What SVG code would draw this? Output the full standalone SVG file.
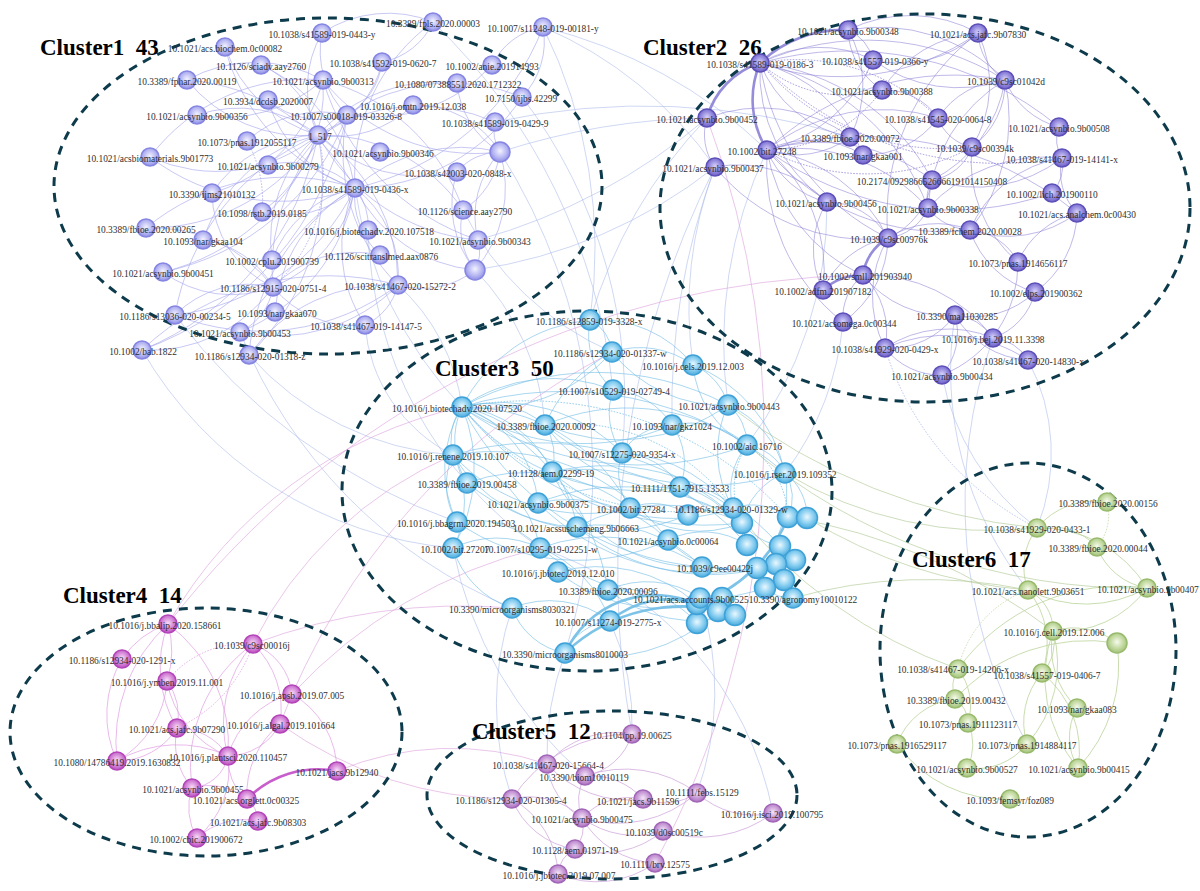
<svg xmlns="http://www.w3.org/2000/svg" width="1200" height="891" viewBox="0 0 1200 891">
<defs>
<radialGradient id="gA" cx="50%" cy="45%" r="55%"><stop offset="0" stop-color="#f2f2ff"/><stop offset="0.65" stop-color="#b4b4f2"/><stop offset="1" stop-color="#8e8ee6"/></radialGradient>
<radialGradient id="gB" cx="50%" cy="45%" r="55%"><stop offset="0" stop-color="#d6d2fa"/><stop offset="0.6" stop-color="#9186dc"/><stop offset="1" stop-color="#6e60c8"/></radialGradient>
<radialGradient id="gC" cx="50%" cy="45%" r="55%"><stop offset="0" stop-color="#eaf8ff"/><stop offset="0.6" stop-color="#86cdf0"/><stop offset="1" stop-color="#4aaadc"/></radialGradient>
<radialGradient id="gD" cx="50%" cy="45%" r="55%"><stop offset="0" stop-color="#f8dcf8"/><stop offset="0.6" stop-color="#d383d6"/><stop offset="1" stop-color="#bb4ec0"/></radialGradient>
<radialGradient id="gE" cx="50%" cy="45%" r="55%"><stop offset="0" stop-color="#f4e4f8"/><stop offset="0.6" stop-color="#c79ad6"/><stop offset="1" stop-color="#ad72c0"/></radialGradient>
<radialGradient id="gF" cx="50%" cy="45%" r="55%"><stop offset="0" stop-color="#f6fbec"/><stop offset="0.6" stop-color="#c2d9a0"/><stop offset="1" stop-color="#a2c27a"/></radialGradient>
</defs>
<style>
.t{font-family:"Liberation Serif","Times New Roman",serif;font-size:9.4px;fill:#2e2e2e;text-anchor:middle}
.ct{font-family:"Liberation Serif","Times New Roman",serif;font-size:23px;font-weight:bold;fill:#000}
.cl{fill:none;stroke:#0d3b4c;stroke-width:3;stroke-dasharray:9 7}
#edges path{fill:none}
.e1 path{stroke:#a4a4ec;stroke-width:1;opacity:.6}
.e2 path{stroke:#8a80d6;stroke-width:1;opacity:.55}
.e3 path{stroke:#6fbde6;stroke-width:1;opacity:.6}
.e4 path{stroke:#e09ce2;stroke-width:1;opacity:.7}
.e5 path{stroke:#cfa6dc;stroke-width:1;opacity:.75}
.e6 path{stroke:#bcd49c;stroke-width:1;opacity:.8}
.ex path{stroke:#a8b8ea;stroke-width:1;opacity:.55}
.exp path{stroke:#dca0dc;stroke-width:1;opacity:.6}
.exg path{stroke:#b8cfa0;stroke-width:1;opacity:.7}
#edges path.dot{stroke-dasharray:1.5 1.5;opacity:.8}
#edges path.thk{stroke-width:2.6;opacity:.9}
.n1 circle{fill:url(#gA);stroke:#8585e2;stroke-width:1.5}
.n2 circle{fill:url(#gB);stroke:#5c4fb8;stroke-width:1.5}
.n3 circle{fill:url(#gC);stroke:#3ea2d8;stroke-width:1.5}
.n4 circle{fill:url(#gD);stroke:#b444ba;stroke-width:1.5}
.n5 circle{fill:url(#gE);stroke:#a266b8;stroke-width:1.5}
.n6 circle{fill:url(#gF);stroke:#98ba6c;stroke-width:1.5}
</style>
<rect width="1200" height="891" fill="#fff"/>

<g id="edges">
<g class="ex">
<path d="M500 152A700 700 0 0 1 707 118"/><path d="M475 270A500 500 0 0 0 715 167"/><path d="M495 122A700 700 0 0 1 850 137"/><path d="M478 240A600 600 0 0 0 707 118"/><path d="M543 27A400 400 0 0 1 715 167"/><path d="M543 27A500 500 0 0 1 767 150"/>
<path d="M355 188A400 400 0 0 0 462 407"/><path d="M398 285A200 200 0 0 1 462 407"/><path d="M365 325A160 160 0 0 0 453 455"/><path d="M249 355A300 300 0 0 0 453 455"/><path d="M142 350A400 400 0 0 0 453 548"/><path d="M475 270A250 250 0 0 1 545 425"/><path d="M463 210A300 300 0 0 0 612 352"/><path d="M543 27A500 500 0 0 1 590 320"/><path d="M433 22A600 600 0 0 1 613 390"/><path d="M522 97A500 500 0 0 1 622 453"/><path d="M240 332A500 500 0 0 0 512 608"/><path d="M368 230A400 400 0 0 0 540 548"/><path d="M500 152A600 600 0 0 1 565 653"/><path d="M175 315A600 600 0 0 0 457 522"/>
<path d="M715 167A400 400 0 0 0 693 365"/><path d="M707 118A500 500 0 0 0 590 320"/><path d="M767 150A450 450 0 0 0 728 405"/><path d="M827 202A400 400 0 0 1 747 445"/><path d="M843 322A300 300 0 0 1 785 473"/><path d="M715 167A700 700 0 0 0 672 425"/>
<path d="M942 375A250 250 0 0 0 1037 528"/><path class="dot" d="M885 348A300 300 0 0 0 1037 528"/><path d="M1028 360A200 200 0 0 1 1037 528"/><path d="M993 338A500 500 0 0 0 1027 744"/><path d="M955 315A350 350 0 0 0 1028 590"/>
<path d="M512 608A300 300 0 0 0 512 799"/><path d="M610 621A250 250 0 0 1 632 734"/><path d="M565 653A300 300 0 0 0 547 764"/><path d="M700 598A300 300 0 0 1 697 793"/><path d="M453 548A400 400 0 0 0 585 776"/><path d="M540 548A350 350 0 0 1 773 813"/><path d="M632 734A900 900 0 0 1 715 167"/>
</g>
<g class="exg">
<path d="M785 473A400 400 0 0 0 1037 528"/><path d="M807 518A500 500 0 0 0 1028 590"/><path d="M793 598A500 500 0 0 1 1028 590"/><path d="M747 445A600 600 0 0 0 1147 588"/><path d="M788 517A600 600 0 0 1 1053 631"/><path d="M733 508A500 500 0 0 0 958 669"/><path d="M728 405A600 600 0 0 0 1037 528"/>
</g>
<g class="exp">
<path d="M168 624A450 450 0 0 1 462 407"/><path d="M253 644A400 400 0 0 1 453 455"/><path d="M292 694A500 500 0 0 1 540 548"/><path d="M253 644A600 600 0 0 1 512 608"/><path d="M168 624A900 900 0 0 1 863 275"/><path d="M280 724A700 700 0 0 1 612 352"/><path d="M337 771A300 300 0 0 1 547 764"/><path d="M280 724A400 400 0 0 0 512 799"/><path d="M707 118A900 900 0 0 1 655 863"/>
</g>
<g class="e1">
<path d="M318 135A140 140 0 0 1 225 47"/><path d="M318 135A100 100 0 0 0 261 65"/><path d="M318 135A150 150 0 0 1 187 80"/><path d="M318 135A130 130 0 0 0 197 115"/><path d="M318 135A160 160 0 0 1 150 157"/><path d="M318 135A130 130 0 0 0 212 193"/><path d="M318 135A200 200 0 0 1 146 228"/><path d="M318 135A160 160 0 0 0 203 240"/><path d="M318 135A220 220 0 0 1 163 272"/><path d="M318 135A240 240 0 0 0 175 315"/><path d="M318 135A290 290 0 0 1 142 350"/><path d="M318 135A110 110 0 0 1 322 33"/><path d="M318 135A100 100 0 0 0 382 62"/><path d="M318 135A160 160 0 0 1 457 83"/><path d="M318 135A110 110 0 0 0 413 105"/><path d="M318 135A190 190 0 0 1 495 122"/><path d="M318 135A150 150 0 0 0 457 172"/><path d="M318 135A170 170 0 0 1 463 210"/><path d="M318 135A200 200 0 0 0 478 240"/><path d="M318 135A180 180 0 0 1 398 285"/><path d="M318 135A140 140 0 0 0 272 260"/><path d="M318 135A240 240 0 0 1 249 355"/>
<path d="M355 188A95 95 0 0 0 268 165"/><path d="M355 188A100 100 0 0 1 262 212"/><path d="M355 188A115 115 0 0 0 272 260"/><path d="M355 188A135 135 0 0 1 273 287"/><path d="M355 188A155 155 0 0 0 275 312"/><path d="M355 188A190 190 0 0 1 240 332"/><path d="M355 188A210 210 0 0 0 249 355"/><path d="M355 188A60 60 0 0 1 368 230"/><path d="M355 188A80 80 0 0 0 380 255"/><path d="M355 188A110 110 0 0 1 398 285"/><path d="M355 188A140 140 0 0 0 365 325"/><path d="M355 188A190 190 0 0 1 433 22"/><path d="M355 188A260 260 0 0 0 543 27"/><path d="M355 188A160 160 0 0 1 500 152"/><path d="M355 188A150 150 0 0 0 475 270"/><path d="M355 188A130 130 0 0 1 268 100"/><path d="M355 188A165 165 0 0 0 261 65"/><path d="M355 188A200 200 0 0 1 225 47"/><path d="M355 188A210 210 0 0 0 187 80"/><path d="M355 188A215 215 0 0 1 150 157"/><path d="M355 188A220 220 0 0 0 146 228"/><path d="M355 188A230 230 0 0 1 175 315"/><path d="M355 188A200 200 0 0 0 522 97"/>
<path d="M347 115A90 90 0 0 1 322 33"/><path d="M347 115A70 70 0 0 0 382 62"/><path d="M347 115A80 80 0 0 1 268 100"/><path d="M347 115A110 110 0 0 0 247 141"/><path d="M347 115A185 185 0 0 1 522 97"/><path d="M347 115A160 160 0 0 0 492 65"/><path d="M347 115A250 250 0 0 1 163 272"/><path d="M347 115A195 195 0 0 0 273 287"/><path d="M347 115A320 320 0 0 1 142 350"/><path d="M347 115A185 185 0 0 0 398 285"/>
<path d="M273 287A105 105 0 0 1 212 193"/><path d="M273 287A150 150 0 0 0 146 228"/><path d="M273 287A115 115 0 0 1 163 272"/><path d="M273 287A105 105 0 0 0 175 315"/><path d="M273 287A150 150 0 0 1 142 350"/><path d="M273 287A95 95 0 0 0 203 240"/><path d="M273 287A60 60 0 0 1 240 332"/><path d="M273 287A105 105 0 0 0 365 325"/><path d="M273 287A115 115 0 0 1 380 255"/>
<path d="M323 80A140 140 0 0 0 187 80"/><path d="M323 80A150 150 0 0 1 197 115"/><path d="M323 80A195 195 0 0 0 150 157"/><path d="M323 80A160 160 0 0 1 212 193"/><path d="M323 80A195 195 0 0 0 500 152"/><path d="M323 80A200 200 0 0 1 463 210"/><path d="M323 80A240 240 0 0 0 478 240"/><path d="M323 80A150 150 0 0 1 262 212"/>
<path d="M398 285A170 170 0 0 1 240 332"/><path d="M398 285A170 170 0 0 0 249 355"/><path d="M398 285A230 230 0 0 1 175 315"/><path d="M398 285A270 270 0 0 0 142 350"/><path d="M398 285A60 60 0 0 1 365 325"/><path d="M398 285A85 85 0 0 0 475 270"/>
<path d="M500 152A40 40 0 0 1 495 122"/><path d="M500 152A55 55 0 0 0 457 172"/><path d="M500 152A80 80 0 0 1 463 210"/><path d="M500 152A95 95 0 0 0 478 240"/><path d="M500 152A125 125 0 0 1 475 270"/><path d="M500 152A100 100 0 0 0 413 105"/><path d="M500 152A90 90 0 0 1 457 83"/>
<path d="M475 270A70 70 0 0 1 463 210"/><path d="M475 270A40 40 0 0 0 478 240"/><path d="M475 270A105 105 0 0 1 457 172"/>
<path d="M433 22A70 70 0 0 1 382 62"/><path d="M433 22A120 120 0 0 0 322 33"/><path d="M543 27A80 80 0 0 1 522 97"/><path d="M543 27A70 70 0 0 0 492 65"/>
<path class="dot" d="M247 141A120 120 0 0 1 262 212"/><path class="dot" d="M318 135A150 150 0 0 1 273 287"/>
</g>
<g class="e2">
<path class="thk" d="M760 63A120 120 0 0 1 848 30"/><path class="thk" d="M707 118A80 80 0 0 1 760 63"/><path class="thk" d="M767 150A95 95 0 0 1 760 63"/>
<path d="M760 63A120 120 0 0 1 873 60"/><path class="dot" d="M760 63A130 130 0 0 0 882 90"/><path class="dot" d="M760 63A200 200 0 0 1 938 118"/><path d="M760 63A120 120 0 0 0 850 137"/><path d="M760 63A145 145 0 0 1 863 155"/><path class="dot" d="M760 63A240 240 0 0 0 972 147"/><path d="M760 63A220 220 0 0 1 932 180"/><path d="M760 63A160 160 0 0 0 827 202"/><path d="M760 63A260 260 0 0 1 1005 80"/><path d="M760 63A240 240 0 0 0 978 33"/><path d="M760 63A230 230 0 0 1 928 208"/><path d="M760 63A230 230 0 0 0 888 238"/><path d="M760 63A330 330 0 0 1 1059 127"/><path class="dot" d="M760 63A340 340 0 0 0 1062 158"/>
<path d="M767 150A90 90 0 0 0 850 137"/><path d="M767 150A100 100 0 0 1 863 155"/><path class="dot" d="M767 150A145 145 0 0 0 882 90"/><path d="M767 150A185 185 0 0 1 938 118"/><path class="dot" d="M767 150A220 220 0 0 0 972 147"/><path d="M767 150A185 185 0 0 1 932 180"/><path d="M767 150A85 85 0 0 0 827 202"/><path d="M767 150A180 180 0 0 1 928 208"/><path d="M767 150A230 230 0 0 0 970 230"/><path d="M767 150A160 160 0 0 1 888 238"/><path d="M767 150A165 165 0 0 0 863 275"/><path d="M767 150A155 155 0 0 1 823 290"/><path d="M767 150A150 150 0 0 0 873 60"/><path d="M767 150A270 270 0 0 1 1005 80"/><path d="M767 150A310 310 0 0 0 1052 193"/><path d="M767 150A340 340 0 0 1 1077 213"/><path d="M767 150A200 200 0 0 0 843 322"/>
<path d="M1005 80A60 60 0 0 1 978 33"/><path d="M1005 80A80 80 0 0 0 1059 127"/><path d="M1005 80A80 80 0 0 1 972 147"/><path d="M1005 80A85 85 0 0 0 938 118"/><path d="M1005 80A135 135 0 0 1 932 180"/><path d="M1005 80A160 160 0 0 0 928 208"/><path d="M1005 80A145 145 0 0 1 873 60"/><path d="M1005 80A175 175 0 0 0 848 30"/><path d="M1005 80A180 180 0 0 1 970 230"/>
<path d="M978 33A140 140 0 0 0 848 30"/><path d="M978 33A115 115 0 0 1 873 60"/><path d="M978 33A125 125 0 0 0 882 90"/><path d="M978 33A120 120 0 0 1 972 147"/><path d="M978 33A230 230 0 0 0 888 238"/>
<path d="M1062 158A40 40 0 0 1 1052 193"/><path d="M1062 158A60 60 0 0 0 1077 213"/><path d="M1062 158A140 140 0 0 1 932 180"/><path d="M1062 158A160 160 0 0 0 928 208"/><path d="M1062 158A35 35 0 0 1 1059 127"/><path d="M1062 158A120 120 0 0 0 970 230"/>
<path d="M1077 213A115 115 0 0 1 970 230"/><path d="M1077 213A85 85 0 0 0 1018 262"/><path d="M1077 213A100 100 0 0 1 1035 292"/>
<path class="thk" d="M823 290A60 60 0 0 1 863 275"/><path class="thk" d="M863 275A50 50 0 0 1 888 238"/>
<path d="M888 238A90 90 0 0 0 823 290"/><path d="M888 238A90 90 0 0 1 970 230"/><path d="M888 238A115 115 0 0 0 885 348"/><path d="M888 238A105 105 0 0 1 843 322"/>
<path d="M863 275A55 55 0 0 0 843 322"/><path d="M863 275A80 80 0 0 1 885 348"/><path d="M863 275A105 105 0 0 0 955 315"/><path d="M863 275A155 155 0 0 1 993 338"/>
<path d="M885 348A80 80 0 0 0 955 315"/><path d="M885 348A150 150 0 0 1 1028 360"/><path d="M885 348A70 70 0 0 0 942 375"/><path d="M885 348A115 115 0 0 1 993 338"/>
<path d="M955 315A50 50 0 0 1 993 338"/><path d="M955 315A90 90 0 0 0 1028 360"/><path d="M955 315A65 65 0 0 1 942 375"/><path d="M955 315A90 90 0 0 0 1035 292"/>
<path d="M993 338A45 45 0 0 1 1028 360"/><path d="M993 338A65 65 0 0 0 1035 292"/>
<path d="M970 230A60 60 0 0 1 1018 262"/><path d="M970 230A95 95 0 0 0 1035 292"/><path d="M970 230A55 55 0 0 1 928 208"/>
<path d="M707 118A55 55 0 0 0 715 167"/><path d="M707 118A150 150 0 0 1 850 137"/><path d="M715 167A125 125 0 0 1 827 202"/><path d="M715 167A195 195 0 0 0 888 238"/>
<path d="M848 30A45 45 0 0 1 873 60"/><path d="M848 30A75 75 0 0 0 882 90"/><path d="M848 30A110 110 0 0 1 850 137"/>
<path d="M938 118A65 65 0 0 0 882 90"/><path d="M938 118A90 90 0 0 1 863 155"/><path d="M938 118A45 45 0 0 0 972 147"/>
<path d="M972 147A50 50 0 0 1 932 180"/><path d="M972 147A130 130 0 0 0 1018 262"/><path d="M932 180A40 40 0 0 0 928 208"/><path d="M932 180A75 75 0 0 1 888 238"/><path d="M928 208A50 50 0 0 1 888 238"/>
<path d="M827 202A70 70 0 0 1 888 238"/><path d="M827 202A90 90 0 0 0 823 290"/><path d="M1018 262A120 120 0 0 1 942 375"/>
</g>
<g class="e3">
<path d="M462 407A90 90 0 0 1 545 425"/><path d="M462 407A55 55 0 0 0 453 455"/><path d="M462 407A110 110 0 0 1 552 472"/><path d="M462 407A80 80 0 0 0 467 483"/><path d="M462 407A110 110 0 0 1 538 503"/><path d="M462 407A120 120 0 0 0 457 522"/><path d="M462 407A150 150 0 0 1 577 527"/><path d="M462 407A170 170 0 0 0 612 352"/><path d="M462 407A160 160 0 0 1 613 390"/><path d="M462 407A280 280 0 0 1 728 405"/><path d="M462 407A220 220 0 0 0 672 425"/><path d="M462 407A170 170 0 0 1 622 453"/><path d="M462 407A300 300 0 0 0 747 445"/><path d="M462 407A340 340 0 0 1 785 473"/><path d="M462 407A230 230 0 0 0 680 487"/><path d="M462 407A185 185 0 0 1 630 508"/><path class="dot" d="M462 407A290 290 0 0 0 733 508"/><path d="M462 407A240 240 0 0 1 608 590"/><path d="M462 407A310 310 0 0 0 742 523"/><path class="dot" d="M462 407A350 350 0 0 1 788 517"/><path d="M462 407A300 300 0 0 0 702 567"/><path d="M462 407A160 160 0 0 1 453 548"/>
<path d="M453 455A100 100 0 0 1 453 548"/><path d="M453 455A70 70 0 0 0 457 522"/><path d="M453 455A120 120 0 0 1 540 548"/><path d="M453 455A180 180 0 0 0 630 508"/><path d="M453 455A220 220 0 0 1 668 540"/><path d="M453 455A150 150 0 0 0 577 527"/><path d="M453 455A300 300 0 0 1 742 523"/>
<path d="M545 425A60 60 0 0 1 552 472"/><path d="M545 425A190 190 0 0 0 728 405"/><path d="M545 425A210 210 0 0 1 747 445"/><path d="M545 425A250 250 0 0 0 785 473"/><path class="dot" d="M545 425A200 200 0 0 1 733 508"/><path d="M545 425A150 150 0 0 0 680 487"/><path d="M545 425A150 150 0 0 1 612 352"/>
<path d="M552 472A210 210 0 0 1 747 545"/><path d="M552 472A180 180 0 0 0 733 508"/><path d="M552 472A230 230 0 0 1 780 546"/><path d="M552 472A160 160 0 0 0 702 567"/>
<path d="M538 503A140 140 0 0 1 668 540"/><path d="M538 503A240 240 0 0 0 757 568"/><path d="M538 503A220 220 0 0 1 742 523"/>
<path d="M577 527A180 180 0 0 1 742 523"/><path d="M577 527A210 210 0 0 0 776 564"/><path d="M577 527A140 140 0 0 1 702 567"/>
<path d="M540 548A180 180 0 0 1 702 567"/><path d="M540 548A240 240 0 0 0 765 588"/><path d="M540 548A120 120 0 0 1 610 621"/>
<path d="M558 572A150 150 0 0 1 697 604"/><path d="M558 572A170 170 0 0 0 722 598"/><path d="M467 483A170 170 0 0 1 630 508"/><path d="M467 483A220 220 0 0 0 688 515"/>
<path d="M457 522A90 90 0 0 1 540 548"/><path d="M457 522A210 210 0 0 0 668 540"/><path d="M453 548A100 100 0 0 1 540 548"/><path d="M453 548A90 90 0 0 0 512 608"/>
<path d="M590 320A40 40 0 0 1 612 352"/><path d="M590 320A120 120 0 0 1 693 365"/><path d="M590 320A75 75 0 0 0 613 390"/><path d="M590 320A160 160 0 0 0 462 407"/>
<path d="M612 352A90 90 0 0 1 693 365"/><path d="M612 352A140 140 0 0 0 728 405"/><path d="M693 365A60 60 0 0 1 728 405"/><path d="M693 365A100 100 0 0 0 747 445"/><path d="M693 365A150 150 0 0 1 785 473"/>
<path d="M613 390A75 75 0 0 1 672 425"/><path d="M613 390A70 70 0 0 0 622 453"/><path d="M728 405A50 50 0 0 1 747 445"/><path d="M728 405A100 100 0 0 1 785 473"/><path d="M728 405A110 110 0 0 0 733 508"/>
<path d="M672 425A85 85 0 0 1 747 445"/><path d="M672 425A60 60 0 0 0 622 453"/><path d="M672 425A65 65 0 0 1 680 487"/>
<path d="M622 453A70 70 0 0 1 680 487"/><path d="M622 453A60 60 0 0 0 630 508"/><path d="M622 453A150 150 0 0 1 742 523"/>
<path d="M747 445A50 50 0 0 1 785 473"/><path d="M747 445A70 70 0 0 0 733 508"/><path class="dot" d="M747 445A90 90 0 0 1 788 517"/><path class="dot" d="M747 445A80 80 0 0 0 742 523"/>
<path d="M785 473A45 45 0 0 1 788 517"/><path d="M785 473A55 55 0 0 1 807 518"/><path d="M785 473A70 70 0 0 0 742 523"/><path d="M785 473A110 110 0 0 1 757 568"/>
<path d="M680 487A75 75 0 0 1 742 523"/><path d="M680 487A60 60 0 0 0 733 508"/><path d="M680 487A90 90 0 0 1 747 545"/><path d="M630 508A60 60 0 0 1 688 515"/><path d="M630 508A115 115 0 0 0 742 523"/>
<path d="M733 508A60 60 0 0 1 788 517"/><path d="M733 508A65 65 0 0 0 780 546"/><path d="M668 540A80 80 0 0 1 747 545"/><path d="M668 540A95 95 0 0 0 757 568"/>
<path class="thk" d="M697 604A150 150 0 0 0 788 517"/><path class="thk" d="M565 653A100 100 0 0 1 697 604"/><path class="thk" d="M610 621A90 90 0 0 1 697 604"/><path class="thk" d="M565 653A170 170 0 0 1 735 615"/>
<path d="M793 598A40 40 0 0 1 765 588"/><path d="M793 598A30 30 0 0 0 784 580"/><path d="M700 598A30 30 0 0 1 722 598"/><path d="M700 598A40 40 0 0 0 735 615"/>
<path d="M512 608A70 70 0 0 0 565 653"/><path d="M512 608A100 100 0 0 1 610 621"/><path d="M565 653A55 55 0 0 1 610 621"/><path d="M565 653A170 170 0 0 0 718 611"/>
<path d="M608 590A100 100 0 0 1 697 623"/><path d="M608 590A140 140 0 0 0 735 615"/><path d="M608 590A95 95 0 0 1 700 598"/>
</g>
<g class="e4">
<path d="M168 624A100 100 0 0 1 167 681"/><path d="M168 624A120 120 0 0 0 177 728"/><path d="M168 624A150 150 0 0 1 228 756"/><path d="M168 624A160 160 0 0 0 117 761"/>
<path class="dot" d="M253 644A100 100 0 0 0 167 681"/><path class="dot" d="M253 644A140 140 0 0 1 177 728"/><path d="M253 644A120 120 0 0 0 228 756"/><path d="M253 644A90 90 0 0 1 280 724"/><path d="M253 644A150 150 0 0 0 192 788"/><path d="M253 644A60 60 0 0 1 292 694"/>
<path d="M122 659A110 110 0 0 0 117 761"/><path d="M167 681A60 60 0 0 1 177 728"/><path d="M167 681A100 100 0 0 0 228 756"/><path d="M167 681A100 100 0 0 1 117 761"/><path d="M292 694A90 90 0 0 0 228 756"/>
<path d="M177 728A60 60 0 0 1 228 756"/><path d="M177 728A70 70 0 0 0 192 788"/><path d="M280 724A60 60 0 0 1 228 756"/><path d="M280 724A90 90 0 0 0 247 799"/>
<path d="M117 761A120 120 0 0 1 228 756"/><path d="M117 761A70 70 0 0 0 177 728"/><path d="M228 756A40 40 0 0 1 192 788"/><path d="M228 756A50 50 0 0 0 247 799"/><path d="M228 756A90 90 0 0 1 197 838"/>
<path d="M192 788A60 60 0 0 1 247 799"/><path d="M247 799A30 30 0 0 1 258 821"/><path class="thk" d="M247 799A100 100 0 0 1 337 771" style="stroke:#c24cc6"/><path d="M258 821A70 70 0 0 0 197 838"/><path d="M197 838A60 60 0 0 1 192 788"/><path d="M292 694A90 90 0 0 1 337 771"/><path d="M122 659A90 90 0 0 1 168 624"/>
</g>
<g class="e5">
<path d="M632 734A90 90 0 0 0 547 764"/><path d="M632 734A60 60 0 0 1 585 776"/><path d="M632 734A140 140 0 0 0 512 799"/><path d="M547 764A40 40 0 0 1 585 776"/><path d="M547 764A70 70 0 0 0 582 818"/><path d="M585 776A70 70 0 0 1 643 799"/><path d="M585 776A50 50 0 0 0 582 818"/>
<path d="M512 799A75 75 0 0 1 582 818"/><path d="M512 799A80 80 0 0 0 575 849"/><path d="M512 799A90 90 0 0 1 558 874"/><path d="M697 793A60 60 0 0 1 643 799"/><path d="M697 793A85 85 0 0 0 773 813"/><path d="M697 793A120 120 0 0 1 582 818"/>
<path d="M643 799A65 65 0 0 0 582 818"/><path d="M582 818A90 90 0 0 0 663 831"/><path d="M582 818A35 35 0 0 1 575 849"/><path d="M582 818A90 90 0 0 0 655 863"/><path d="M773 813A120 120 0 0 1 663 831"/><path d="M663 831A95 95 0 0 1 575 849"/>
<path d="M575 849A30 30 0 0 0 558 874"/><path d="M655 863A100 100 0 0 1 558 874"/><path d="M585 776A120 120 0 0 1 697 793"/><path d="M547 764A110 110 0 0 0 643 799"/>
</g>
<g class="e6">
<path d="M1107 502A75 75 0 0 0 1037 528"/><path class="dot" d="M1107 502A50 50 0 0 1 1097 547"/><path d="M1037 528A65 65 0 0 1 1097 547"/><path d="M1037 528A65 65 0 0 0 1028 590"/><path d="M1037 528A125 125 0 0 1 1147 588"/><path d="M1097 547A65 65 0 0 0 1147 588"/>
<path d="M1028 590A45 45 0 0 1 1053 631"/><path class="dot" d="M1028 590A110 110 0 0 0 958 669"/><path d="M1028 590A85 85 0 0 1 1042 673"/><path d="M1028 590A125 125 0 0 0 1147 588"/><path d="M1147 588A105 105 0 0 1 1053 631"/><path d="M1147 588A200 200 0 0 0 958 669"/>
<path d="M1053 631A45 45 0 0 1 1042 673"/><path d="M1053 631A85 85 0 0 0 1077 708"/><path d="M1053 631A120 120 0 0 1 1027 744"/><path d="M1053 631A140 140 0 0 0 1078 768"/><path d="M1053 631A70 70 0 0 1 1117 643"/><path d="M1117 643A150 150 0 0 1 1078 768"/>
<path d="M958 669A35 35 0 0 0 955 699"/><path d="M958 669A60 60 0 0 1 968 723"/><path d="M1042 673A75 75 0 0 0 1027 744"/><path d="M1042 673A100 100 0 0 1 1078 768"/><path d="M955 699A30 30 0 0 1 968 723"/><path d="M955 699A70 70 0 0 0 897 744"/>
<path d="M968 723A50 50 0 0 1 967 768"/><path d="M897 744A130 130 0 0 0 1010 799"/><path d="M1027 744A65 65 0 0 1 967 768"/><path d="M1077 708A60 60 0 0 0 1078 768"/><path d="M1117 643A180 180 0 0 0 955 699"/>
</g>
</g>

<g id="clusters">
<ellipse class="cl" cx="328" cy="186" rx="274" ry="168"/>
<ellipse class="cl" cx="925" cy="208" rx="265" ry="194"/>
<ellipse class="cl" cx="587" cy="491" rx="245" ry="180"/>
<ellipse class="cl" cx="206" cy="732" rx="196" ry="124"/>
<ellipse class="cl" cx="612" cy="795" rx="185" ry="84"/>
<ellipse class="cl" cx="1028" cy="650" rx="148" ry="187"/>
<text class="ct" x="40" y="55" xml:space="preserve">Cluster1  43</text>
<text class="ct" x="643" y="55" xml:space="preserve">Cluster2  26</text>
<text class="ct" x="435" y="376" xml:space="preserve">Cluster3  50</text>
<text class="ct" x="63" y="603" xml:space="preserve">Cluster4  14</text>
<text class="ct" x="472" y="739" xml:space="preserve">Cluster5  12</text>
<text class="ct" x="912" y="567" xml:space="preserve">Cluster6  17</text>
</g>

<g id="nodes">
<g id="c1-01" class="n1"><circle cx="225" cy="47" r="9"/><text class="t" x="225" y="52">10.1021/acs.biochem.0c00082</text></g>
<g id="c1-02" class="n1"><circle cx="261" cy="65" r="9"/><text class="t" x="261" y="70">10.1126/sciadv.aay2760</text></g>
<g id="c1-03" class="n1"><circle cx="187" cy="80" r="9"/><text class="t" x="187" y="85">10.3389/fphar.2020.00119</text></g>
<g id="c1-04" class="n1"><circle cx="268" cy="100" r="9"/><text class="t" x="268" y="105">10.3934/dcdsb.2020007</text></g>
<g id="c1-05" class="n1"><circle cx="197" cy="115" r="9"/><text class="t" x="197" y="120">10.1021/acsynbio.9b00356</text></g>
<g id="c1-06" class="n1"><circle cx="247" cy="141" r="9"/><text class="t" x="247" y="146">10.1073/pnas.1912055117</text></g>
<g id="c1-07" class="n1"><circle cx="150" cy="157" r="9"/><text class="t" x="150" y="162">10.1021/acsbiomaterials.9b01773</text></g>
<g id="c1-08" class="n1"><circle cx="268" cy="165" r="9"/><text class="t" x="268" y="170">10.1021/acsynbio.9b00279</text></g>
<g id="c1-09" class="n1"><circle cx="212" cy="193" r="9"/><text class="t" x="212" y="198">10.3390/ijms21010132</text></g>
<g id="c1-10" class="n1"><circle cx="262" cy="212" r="9"/><text class="t" x="262" y="217">10.1098/rstb.2019.0185</text></g>
<g id="c1-11" class="n1"><circle cx="146" cy="228" r="9"/><text class="t" x="146" y="233">10.3389/fbioe.2020.00265</text></g>
<g id="c1-12" class="n1"><circle cx="203" cy="240" r="9"/><text class="t" x="203" y="245">10.1093/nar/gkaa104</text></g>
<g id="c1-13" class="n1"><circle cx="272" cy="260" r="9"/><text class="t" x="272" y="265">10.1002/cplu.201900739</text></g>
<g id="c1-14" class="n1"><circle cx="163" cy="272" r="9"/><text class="t" x="163" y="277">10.1021/acsynbio.9b00451</text></g>
<g id="c1-15" class="n1"><circle cx="273" cy="287" r="9"/><text class="t" x="273" y="292">10.1186/s12915-020-0751-4</text></g>
<g id="c1-16" class="n1"><circle cx="175" cy="315" r="9"/><text class="t" x="175" y="320">10.1186/s13036-020-00234-5</text></g>
<g id="c1-17" class="n1"><circle cx="275" cy="312" r="9"/><text class="t" x="277" y="317">10.1093/nar/gkaa070</text></g>
<g id="c1-18" class="n1"><circle cx="240" cy="332" r="9"/><text class="t" x="240" y="337">10.1021/acsynbio.9b00453</text></g>
<g id="c1-19" class="n1"><circle cx="142" cy="350" r="9"/><text class="t" x="143" y="355">10.1002/bab.1822</text></g>
<g id="c1-20" class="n1"><circle cx="249" cy="355" r="9"/><text class="t" x="250" y="360">10.1186/s12934-020-01318-z</text></g>
<g id="c1-21" class="n1"><circle cx="322" cy="33" r="9"/><text class="t" x="322" y="38">10.1038/s41589-019-0443-y</text></g>
<g id="c1-22" class="n1"><circle cx="433" cy="22" r="9"/><text class="t" x="433" y="27">10.3389/fpls.2020.00003</text></g>
<g id="c1-23" class="n1"><circle cx="543" cy="27" r="9"/><text class="t" x="543" y="32">10.1007/s11248-019-00181-y</text></g>
<g id="c1-24" class="n1"><circle cx="382" cy="62" r="9"/><text class="t" x="383" y="67">10.1038/s41592-019-0620-7</text></g>
<g id="c1-25" class="n1"><circle cx="492" cy="65" r="9"/><text class="t" x="492" y="70">10.1002/anie.201914993</text></g>
<g id="c1-26" class="n1"><circle cx="323" cy="80" r="9"/><text class="t" x="323" y="85">10.1021/acsynbio.9b00313</text></g>
<g id="c1-27" class="n1"><circle cx="457" cy="83" r="9"/><text class="t" x="458" y="88">10.1080/07388551.2020.1712322</text></g>
<g id="c1-28" class="n1"><circle cx="522" cy="97" r="9"/><text class="t" x="521" y="102">10.7150/ijbs.42299</text></g>
<g id="c1-29" class="n1"><circle cx="413" cy="105" r="9"/><text class="t" x="413" y="110">10.1016/j.omtn.2019.12.038</text></g>
<g id="c1-30" class="n1"><circle cx="347" cy="115" r="9"/><text class="t" x="346" y="120">10.1007/s00018-019-03326-8</text></g>
<g id="c1-31" class="n1"><circle cx="495" cy="122" r="9"/><text class="t" x="495" y="127">10.1038/s41589-019-0429-9</text></g>
<g id="c1-32" class="n1"><circle cx="318" cy="135" r="9"/><text class="t" x="320" y="140">1_517</text></g>
<g id="c1-33" class="n1"><circle cx="500" cy="152" r="10"/></g>
<g id="c1-34" class="n1"><circle cx="380" cy="152" r="9"/><text class="t" x="383" y="157">10.1021/acsynbio.9b00346</text></g>
<g id="c1-35" class="n1"><circle cx="457" cy="172" r="9"/><text class="t" x="458" y="177">10.1038/s42003-020-0848-x</text></g>
<g id="c1-36" class="n1"><circle cx="355" cy="188" r="9"/><text class="t" x="355" y="193">10.1038/s41589-019-0436-x</text></g>
<g id="c1-37" class="n1"><circle cx="463" cy="210" r="9"/><text class="t" x="465" y="215">10.1126/science.aay2790</text></g>
<g id="c1-38" class="n1"><circle cx="368" cy="230" r="9"/><text class="t" x="369" y="235">10.1016/j.biotechadv.2020.107518</text></g>
<g id="c1-39" class="n1"><circle cx="478" cy="240" r="9"/><text class="t" x="480" y="245">10.1021/acsynbio.9b00343</text></g>
<g id="c1-40" class="n1"><circle cx="380" cy="255" r="9"/><text class="t" x="381" y="260">10.1126/scitranslmed.aax0876</text></g>
<g id="c1-41" class="n1"><circle cx="475" cy="270" r="10"/></g>
<g id="c1-42" class="n1"><circle cx="398" cy="285" r="9"/><text class="t" x="400" y="290">10.1038/s41467-020-15272-2</text></g>
<g id="c1-43" class="n1"><circle cx="365" cy="325" r="9"/><text class="t" x="366" y="330">10.1038/s41467-019-14147-5</text></g>

<g id="c2-01" class="n2"><circle cx="848" cy="30" r="9"/><text class="t" x="848" y="35">10.1021/acsynbio.9b00348</text></g>
<g id="c2-02" class="n2"><circle cx="760" cy="63" r="9"/><text class="t" x="760" y="68">10.1038/s41589-019-0186-3</text></g>
<g id="c2-03" class="n2"><circle cx="873" cy="60" r="9"/><text class="t" x="875" y="65">10.1038/s41557-019-0366-y</text></g>
<g id="c2-04" class="n2"><circle cx="882" cy="90" r="9"/><text class="t" x="882" y="95">10.1021/acsynbio.9b00388</text></g>
<g id="c2-05" class="n2"><circle cx="707" cy="118" r="9"/><text class="t" x="707" y="123">10.1021/acsynbio.9b00452</text></g>
<g id="c2-06" class="n2"><circle cx="1005" cy="80" r="9"/><text class="t" x="1006" y="85">10.1039/c9sc01042d</text></g>
<g id="c2-07" class="n2"><circle cx="978" cy="33" r="9"/><text class="t" x="978" y="38">10.1021/acs.jafc.9b07830</text></g>
<g id="c2-08" class="n2"><circle cx="938" cy="118" r="9"/><text class="t" x="938" y="123">10.1038/s41545-020-0064-8</text></g>
<g id="c2-09" class="n2"><circle cx="1059" cy="127" r="9"/><text class="t" x="1059" y="132">10.1021/acsynbio.9b00508</text></g>
<g id="c2-10" class="n2"><circle cx="850" cy="137" r="9"/><text class="t" x="850" y="142">10.3389/fbioe.2020.00072</text></g>
<g id="c2-11" class="n2"><circle cx="767" cy="150" r="9"/><text class="t" x="762" y="155">10.1002/bit.27248</text></g>
<g id="c2-12" class="n2"><circle cx="863" cy="155" r="9"/><text class="t" x="863" y="160">10.1093/nar/gkaa001</text></g>
<g id="c2-13" class="n2"><circle cx="972" cy="147" r="9"/><text class="t" x="975" y="152">10.1039/c9sc00394k</text></g>
<g id="c2-14" class="n2"><circle cx="1062" cy="158" r="9"/><text class="t" x="1062" y="163">10.1038/s41467-019-14141-x</text></g>
<g id="c2-15" class="n2"><circle cx="715" cy="167" r="9"/><text class="t" x="713" y="172">10.1021/acsynbio.9b00437</text></g>
<g id="c2-16" class="n2"><circle cx="932" cy="180" r="9"/><text class="t" x="932" y="185">10.2174/0929866526666191014150408</text></g>
<g id="c2-17" class="n2"><circle cx="1052" cy="193" r="9"/><text class="t" x="1052" y="198">10.1002/lich.201900110</text></g>
<g id="c2-18" class="n2"><circle cx="827" cy="202" r="9"/><text class="t" x="826" y="207">10.1021/acsynbio.9b00456</text></g>
<g id="c2-19" class="n2"><circle cx="928" cy="208" r="9"/><text class="t" x="928" y="213">10.1021/acsynbio.9b00338</text></g>
<g id="c2-20" class="n2"><circle cx="1077" cy="213" r="9"/><text class="t" x="1077" y="218">10.1021/acs.analchem.0c00430</text></g>
<g id="c2-21" class="n2"><circle cx="970" cy="230" r="9"/><text class="t" x="970" y="235">10.3389/fchem.2020.00028</text></g>
<g id="c2-22" class="n2"><circle cx="888" cy="238" r="9"/><text class="t" x="889" y="243">10.1039/c9sc00976k</text></g>
<g id="c2-23" class="n2"><circle cx="1018" cy="262" r="9"/><text class="t" x="1018" y="267">10.1073/pnas.1914656117</text></g>
<g id="c2-24" class="n2"><circle cx="863" cy="275" r="9"/><text class="t" x="865" y="280">10.1002/smll.201903940</text></g>
<g id="c2-25" class="n2"><circle cx="823" cy="290" r="9"/><text class="t" x="823" y="295">10.1002/adfm.201907182</text></g>
<g id="c2-26" class="n2"><circle cx="1035" cy="292" r="9"/><text class="t" x="1036" y="297">10.1002/elps.201900362</text></g>
<g id="c2-27" class="n2"><circle cx="843" cy="322" r="9"/><text class="t" x="844" y="327">10.1021/acsomega.0c00344</text></g>
<g id="c2-28" class="n2"><circle cx="885" cy="348" r="9"/><text class="t" x="885" y="353">10.1038/s41929-020-0429-x</text></g>
<g id="c2-29" class="n2"><circle cx="955" cy="315" r="9"/><text class="t" x="957" y="320">10.3390/ma11030285</text></g>
<g id="c2-30" class="n2"><circle cx="993" cy="338" r="9"/><text class="t" x="993" y="343">10.1016/j.bej.2019.11.3398</text></g>
<g id="c2-31" class="n2"><circle cx="1028" cy="360" r="9"/><text class="t" x="1028" y="365">10.1038/s41467-020-14830-x</text></g>
<g id="c2-32" class="n2"><circle cx="942" cy="375" r="9"/><text class="t" x="942" y="380">10.1021/acsynbio.9b00434</text></g>

<g id="c3-u01" class="n3"><circle cx="688" cy="515" r="10"/></g>
<g id="c3-u02" class="n3"><circle cx="742" cy="523" r="10.5"/></g>
<g id="c3-u03" class="n3"><circle cx="747" cy="545" r="10.5"/></g>
<g id="c3-u04" class="n3"><circle cx="788" cy="517" r="10.5"/></g>
<g id="c3-u05" class="n3"><circle cx="807" cy="518" r="10.5"/></g>
<g id="c3-u06" class="n3"><circle cx="780" cy="546" r="10.5"/></g>
<g id="c3-u07" class="n3"><circle cx="795" cy="560" r="10.5"/></g>
<g id="c3-u08" class="n3"><circle cx="776" cy="564" r="10.5"/></g>
<g id="c3-u09" class="n3"><circle cx="757" cy="568" r="10.5"/></g>
<g id="c3-u10" class="n3"><circle cx="784" cy="580" r="10.5"/></g>
<g id="c3-u11" class="n3"><circle cx="765" cy="588" r="10.5"/></g>
<g id="c3-u12" class="n3"><circle cx="722" cy="598" r="10.5"/></g>
<g id="c3-u13" class="n3"><circle cx="718" cy="611" r="10.5"/></g>
<g id="c3-u14" class="n3"><circle cx="735" cy="615" r="10.5"/></g>
<g id="c3-u15" class="n3"><circle cx="697" cy="623" r="10.5"/></g>
<g id="c3-u16" class="n3"><circle cx="697" cy="604" r="10.5"/></g>
<g id="c3-01" class="n3"><circle cx="462" cy="407" r="10"/><text class="t" x="457" y="412">10.1016/j.biotechadv.2020.107520</text></g>
<g id="c3-02" class="n3"><circle cx="545" cy="425" r="10"/><text class="t" x="546" y="430">10.3389/fbioe.2020.00092</text></g>
<g id="c3-03" class="n3"><circle cx="453" cy="455" r="10"/><text class="t" x="453" y="460">10.1016/j.renene.2019.10.107</text></g>
<g id="c3-04" class="n3"><circle cx="552" cy="472" r="10"/><text class="t" x="551" y="477">10.1128/aem.02299-19</text></g>
<g id="c3-05" class="n3"><circle cx="467" cy="483" r="10"/><text class="t" x="467" y="488">10.3389/fbioe.2019.00458</text></g>
<g id="c3-06" class="n3"><circle cx="538" cy="503" r="10"/><text class="t" x="538" y="508">10.1021/acsynbio.9b00375</text></g>
<g id="c3-07" class="n3"><circle cx="457" cy="522" r="10"/><text class="t" x="456" y="527">10.1016/j.bbagrm.2020.194503</text></g>
<g id="c3-08" class="n3"><circle cx="577" cy="527" r="10"/><text class="t" x="576" y="532">10.1021/acssuschemeng.9b06663</text></g>
<g id="c3-09" class="n3"><circle cx="453" cy="548" r="10"/><text class="t" x="455" y="553">10.1002/bit.27207</text></g>
<g id="c3-10" class="n3"><circle cx="540" cy="548" r="10"/><text class="t" x="541" y="553">10.1007/s10295-019-02251-w</text></g>
<g id="c3-11" class="n3"><circle cx="558" cy="572" r="10"/><text class="t" x="558" y="577">10.1016/j.jbiotec.2019.12.010</text></g>
<g id="c3-12" class="n3"><circle cx="608" cy="590" r="10"/><text class="t" x="608" y="595">10.3389/fbioe.2020.00096</text></g>
<g id="c3-13" class="n3"><circle cx="590" cy="320" r="10"/><text class="t" x="589" y="325">10.1186/s12859-019-3328-x</text></g>
<g id="c3-14" class="n3"><circle cx="612" cy="352" r="10"/><text class="t" x="610" y="357">10.1186/s12934-020-01337-w</text></g>
<g id="c3-15" class="n3"><circle cx="693" cy="365" r="10"/><text class="t" x="693" y="370">10.1016/j.cels.2019.12.003</text></g>
<g id="c3-16" class="n3"><circle cx="613" cy="390" r="10"/><text class="t" x="614" y="395">10.1007/s10529-019-02749-4</text></g>
<g id="c3-17" class="n3"><circle cx="728" cy="405" r="10"/><text class="t" x="729" y="410">10.1021/acsynbio.9b00443</text></g>
<g id="c3-18" class="n3"><circle cx="672" cy="425" r="10"/><text class="t" x="672" y="430">10.1093/nar/gkz1024</text></g>
<g id="c3-19" class="n3"><circle cx="622" cy="453" r="10"/><text class="t" x="622" y="458">10.1007/s12275-020-9354-x</text></g>
<g id="c3-20" class="n3"><circle cx="747" cy="445" r="10"/><text class="t" x="747" y="450">10.1002/aic.16716</text></g>
<g id="c3-21" class="n3"><circle cx="785" cy="473" r="10"/><text class="t" x="785" y="478">10.1016/j.rser.2019.109352</text></g>
<g id="c3-22" class="n3"><circle cx="680" cy="487" r="10"/><text class="t" x="680" y="492">10.1111/1751-7915.13533</text></g>
<g id="c3-23" class="n3"><circle cx="630" cy="508" r="10"/><text class="t" x="631" y="513">10.1002/bit.27284</text></g>
<g id="c3-24" class="n3"><circle cx="733" cy="508" r="10"/><text class="t" x="731" y="513">10.1186/s12934-020-01329-w</text></g>
<g id="c3-25" class="n3"><circle cx="668" cy="540" r="10"/><text class="t" x="668" y="545">10.1021/acsynbio.0c00064</text></g>
<g id="c3-26" class="n3"><circle cx="702" cy="567" r="10"/><text class="t" x="715" y="572">10.1039/c9ee00422j</text></g>
<g id="c3-27" class="n3"><circle cx="700" cy="598" r="10"/><text class="t" x="691" y="603">10.1021/acs.accounts.9b00525</text></g>
<g id="c3-28" class="n3"><circle cx="793" cy="598" r="10"/><text class="t" x="803" y="603">10.3390/agronomy10010122</text></g>
<g id="c3-29" class="n3"><circle cx="610" cy="621" r="10"/><text class="t" x="608" y="626">10.1007/s11274-019-2775-x</text></g>
<g id="c3-30" class="n3"><circle cx="512" cy="608" r="10"/><text class="t" x="512" y="613">10.3390/microorganisms8030321</text></g>
<g id="c3-31" class="n3"><circle cx="565" cy="653" r="10"/><text class="t" x="565" y="658">10.3390/microorganisms8010003</text></g>

<g id="c4-01" class="n4"><circle cx="168" cy="624" r="9"/><text class="t" x="165" y="629">10.1016/j.bbalip.2020.158661</text></g>
<g id="c4-02" class="n4"><circle cx="253" cy="644" r="9"/><text class="t" x="252" y="649">10.1039/c9sc00016j</text></g>
<g id="c4-03" class="n4"><circle cx="122" cy="659" r="9"/><text class="t" x="122" y="664">10.1186/s12934-020-1291-x</text></g>
<g id="c4-04" class="n4"><circle cx="167" cy="681" r="9"/><text class="t" x="167" y="686">10.1016/j.ymben.2019.11.001</text></g>
<g id="c4-05" class="n4"><circle cx="292" cy="694" r="9"/><text class="t" x="292" y="699">10.1016/j.apsb.2019.07.005</text></g>
<g id="c4-06" class="n4"><circle cx="177" cy="728" r="9"/><text class="t" x="177" y="733">10.1021/acs.jafc.9b07290</text></g>
<g id="c4-07" class="n4"><circle cx="280" cy="724" r="9"/><text class="t" x="281" y="729">10.1016/j.algal.2019.101664</text></g>
<g id="c4-08" class="n4"><circle cx="117" cy="761" r="9"/><text class="t" x="117" y="766">10.1080/14786419.2019.1630832</text></g>
<g id="c4-09" class="n4"><circle cx="228" cy="756" r="9"/><text class="t" x="228" y="761">10.1016/j.plantsci.2020.110457</text></g>
<g id="c4-10" class="n4"><circle cx="192" cy="788" r="9"/><text class="t" x="193" y="793">10.1021/acsynbio.9b00455</text></g>
<g id="c4-11" class="n4"><circle cx="247" cy="799" r="9"/><text class="t" x="246" y="804">10.1021/acs.orglett.0c00325</text></g>
<g id="c4-12" class="n4"><circle cx="258" cy="821" r="9"/><text class="t" x="258" y="826">10.1021/acs.jafc.9b08303</text></g>
<g id="c4-13" class="n4"><circle cx="197" cy="838" r="9"/><text class="t" x="196" y="843">10.1002/cbic.201900672</text></g>
<g id="c4-14" class="n4"><circle cx="337" cy="771" r="9"/><text class="t" x="337" y="776">10.1021/jacs.9b12940</text></g>

<g id="c5-01" class="n5"><circle cx="632" cy="734" r="9"/><text class="t" x="632" y="739">10.1104/pp.19.00625</text></g>
<g id="c5-02" class="n5"><circle cx="547" cy="764" r="9"/><text class="t" x="548" y="769">10.1038/s41467-020-15664-4</text></g>
<g id="c5-03" class="n5"><circle cx="585" cy="776" r="9"/><text class="t" x="584" y="781">10.3390/biom10010119</text></g>
<g id="c5-04" class="n5"><circle cx="512" cy="799" r="9"/><text class="t" x="511" y="804">10.1186/s12934-020-01305-4</text></g>
<g id="c5-05" class="n5"><circle cx="697" cy="793" r="9"/><text class="t" x="702" y="796">10.1111/febs.15129</text></g>
<g id="c5-06" class="n5"><circle cx="643" cy="799" r="9"/><text class="t" x="638" y="805">10.1021/jacs.9b11596</text></g>
<g id="c5-07" class="n5"><circle cx="582" cy="818" r="9"/><text class="t" x="582" y="823">10.1021/acsynbio.9b00475</text></g>
<g id="c5-08" class="n5"><circle cx="773" cy="813" r="9"/><text class="t" x="772" y="818">10.1016/j.isci.2019.100795</text></g>
<g id="c5-09" class="n5"><circle cx="663" cy="831" r="9"/><text class="t" x="664" y="836">10.1039/d0sc00519c</text></g>
<g id="c5-10" class="n5"><circle cx="575" cy="849" r="9"/><text class="t" x="575" y="854">10.1128/aem.01971-19</text></g>
<g id="c5-11" class="n5"><circle cx="655" cy="863" r="9"/><text class="t" x="655" y="868">10.1111/brv.12575</text></g>
<g id="c5-12" class="n5"><circle cx="558" cy="874" r="9"/><text class="t" x="559" y="879">10.1016/j.jbiotec.2019.07.007</text></g>

<g id="c6-01" class="n6"><circle cx="1107" cy="502" r="9"/><text class="t" x="1108" y="507">10.3389/fbioe.2020.00156</text></g>
<g id="c6-02" class="n6"><circle cx="1037" cy="528" r="9"/><text class="t" x="1037" y="533">10.1038/s41929-020-0433-1</text></g>
<g id="c6-03" class="n6"><circle cx="1097" cy="547" r="9"/><text class="t" x="1098" y="552">10.3389/fbioe.2020.00044</text></g>
<g id="c6-04" class="n6"><circle cx="1028" cy="590" r="9"/><text class="t" x="1028" y="595">10.1021/acs.nanolett.9b03651</text></g>
<g id="c6-05" class="n6"><circle cx="1147" cy="588" r="9"/><text class="t" x="1148" y="593">10.1021/acsynbio.9b00407</text></g>
<g id="c6-06" class="n6"><circle cx="1053" cy="631" r="9"/><text class="t" x="1054" y="636">10.1016/j.cell.2019.12.006</text></g>
<g id="c6-07" class="n6"><circle cx="1117" cy="643" r="10"/></g>
<g id="c6-08" class="n6"><circle cx="958" cy="669" r="9"/><text class="t" x="953" y="673">10.1038/s41467-019-14206-x</text></g>
<g id="c6-09" class="n6"><circle cx="1042" cy="673" r="9"/><text class="t" x="1047" y="679">10.1038/s41557-019-0406-7</text></g>
<g id="c6-10" class="n6"><circle cx="955" cy="699" r="9"/><text class="t" x="956" y="704">10.3389/fbioe.2019.00432</text></g>
<g id="c6-11" class="n6"><circle cx="1077" cy="708" r="9"/><text class="t" x="1077" y="713">10.1093/nar/gkaa083</text></g>
<g id="c6-12" class="n6"><circle cx="968" cy="723" r="9"/><text class="t" x="968" y="728">10.1073/pnas.1911123117</text></g>
<g id="c6-13" class="n6"><circle cx="897" cy="744" r="9"/><text class="t" x="897" y="749">10.1073/pnas.1916529117</text></g>
<g id="c6-14" class="n6"><circle cx="1027" cy="744" r="9"/><text class="t" x="1027" y="749">10.1073/pnas.1914884117</text></g>
<g id="c6-15" class="n6"><circle cx="967" cy="768" r="9"/><text class="t" x="967" y="773">10.1021/acsynbio.9b00527</text></g>
<g id="c6-16" class="n6"><circle cx="1078" cy="768" r="9"/><text class="t" x="1079" y="773">10.1021/acsynbio.9b00415</text></g>
<g id="c6-17" class="n6"><circle cx="1010" cy="799" r="9"/><text class="t" x="1010" y="804">10.1093/femsyr/foz089</text></g>
</g>
</svg>
